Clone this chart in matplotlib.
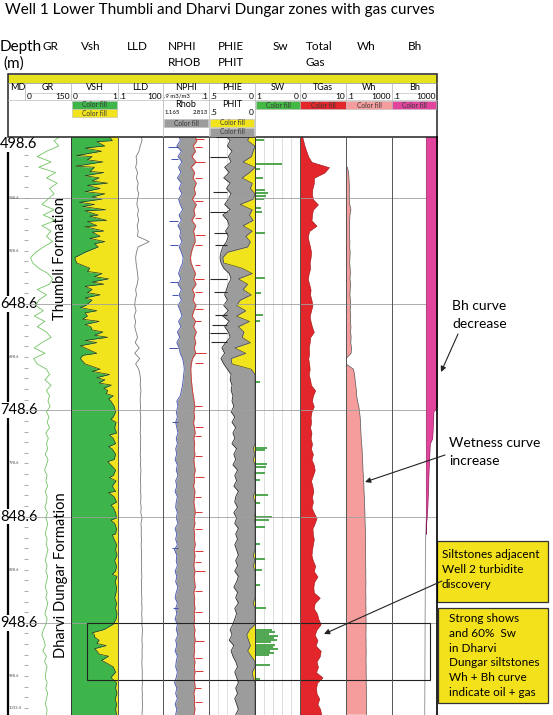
import numpy as np
import matplotlib
matplotlib.use("Agg")
import matplotlib.pyplot as plt
from matplotlib.patches import Rectangle

plt.rcParams['font.family'] = ['Lato', 'DejaVu Sans']

# ---------------- data (5 m sampling) ----------------
DEPTH = np.arange(490.0, 1036.0, 5.0)   # 490 ... 1035 m

VSH = [0.80, 0.88, 0.72, 0.65, 0.45, 0.68, 0.50, 0.70, 0.60, 0.78,
       0.62, 0.72, 0.66, 0.50, 0.74, 0.58, 0.76, 0.55, 0.70, 0.62,
       0.72, 0.58, 0.30, 0.08, 0.12, 0.40, 0.66, 0.80, 0.70, 0.45,
       0.62, 0.45, 0.32, 0.55, 0.35, 0.60, 0.42, 0.68, 0.78, 0.55,
       0.30, 0.55, 0.20, 0.30, 0.62, 0.82, 0.72, 0.86, 0.78, 0.90,
       0.85, 0.92, 0.95, 0.90, 0.96, 0.93, 0.97, 0.90, 0.95, 0.88,
       0.95, 0.92, 0.85, 0.95, 0.90, 0.96, 0.88, 0.95, 0.92, 0.97,
       0.90, 0.95, 0.97, 0.93, 0.97, 0.95, 0.92, 0.97, 0.95, 0.98,
       0.93, 0.97, 0.95, 0.98, 0.94, 0.97, 0.96, 0.93, 0.97, 0.95,
       0.98, 0.96, 0.90, 0.70, 0.50, 0.60, 0.75, 0.55, 0.80, 0.70,
       0.90, 0.95, 0.85, 0.97, 0.95, 0.98, 0.94, 0.97, 0.95, 0.97]

GR = [120, 95, 110, 70, 40, 85, 45, 100, 70, 105,
      80, 95, 75, 55, 95, 60, 100, 55, 85, 70,
      90, 60, 35, 18, 25, 45, 75, 90, 80, 40,
      70, 45, 35, 60, 30, 65, 40, 70, 85, 55,
      30, 65, 28, 40, 70, 80, 65, 85, 70, 80,
      75, 82, 70, 78, 72, 80, 68, 76, 70, 74,
      66, 75, 70, 64, 72, 68, 74, 66, 72, 70,
      65, 73, 68, 74, 70, 66, 72, 69, 75, 70,
      66, 72, 68, 74, 70, 66, 72, 68, 74, 70,
      65, 72, 68, 60, 55, 62, 66, 58, 70, 64,
      72, 68, 66, 72, 68, 74, 70, 66, 72, 70]

LLD = [3.5, 4.0, 3.0, 2.5, 1.6, 1.8, 1.5, 2.0, 1.7, 2.2,
       1.9, 2.4, 2.0, 1.8, 2.3, 2.0, 2.4, 1.9, 2.2, 2.0,
       12.0, 2.2, 1.7, 1.5, 1.6, 1.8, 2.0, 2.2, 1.9, 1.5,
       1.7, 1.4, 1.3, 1.6, 1.2, 1.5, 1.3, 1.6, 2.0, 1.4,
       2.6, 1.3, 2.8, 1.5, 2.4, 2.9, 3.2, 3.0, 3.4, 3.1,
       3.0, 3.2, 3.0, 3.3, 3.1, 3.2, 3.0, 3.3, 3.1, 3.2,
       3.0, 3.3, 3.1, 3.4, 3.2, 3.1, 3.3, 3.2, 3.4, 3.2,
       3.5, 3.3, 4.0, 3.4, 3.6, 3.5, 3.7, 3.5, 3.6, 3.8,
       3.6, 3.8, 3.7, 3.9, 3.6, 3.8, 3.7, 3.9, 3.8, 4.0,
       3.8, 4.0, 3.9, 4.3, 4.1, 3.9, 4.2, 4.0, 4.1, 3.9,
       4.0, 4.2, 4.1, 4.3, 4.0, 4.2, 4.1, 4.3, 4.2, 4.0]

NPHI = [0.62, 0.60, 0.66, 0.58, 0.64, 0.57, 0.63, 0.59, 0.65, 0.58,
        0.62, 0.57, 0.63, 0.60, 0.56, 0.62, 0.58, 0.64, 0.59, 0.61,
        0.57, 0.62, 0.58, 0.55, 0.56, 0.60, 0.63, 0.59, 0.64, 0.58,
        0.62, 0.58, 0.64, 0.60, 0.57, 0.63, 0.59, 0.65, 0.61, 0.66,
        0.62, 0.60, 0.56, 0.54, 0.53, 0.54, 0.55, 0.56, 0.58, 0.60,
        0.66, 0.64, 0.67, 0.65, 0.68, 0.66, 0.64, 0.67, 0.65, 0.68,
        0.66, 0.69, 0.65, 0.67, 0.64, 0.68, 0.66, 0.69, 0.65, 0.67,
        0.68, 0.65, 0.67, 0.64, 0.69, 0.66, 0.68, 0.65, 0.70, 0.66,
        0.67, 0.65, 0.69, 0.66, 0.68, 0.64, 0.67, 0.69, 0.65, 0.68,
        0.66, 0.69, 0.65, 0.67, 0.64, 0.68, 0.66, 0.69, 0.65, 0.67,
        0.68, 0.65, 0.67, 0.70, 0.66, 0.68, 0.65, 0.69, 0.66, 0.68]

RHOB = [2.30, 2.38, 2.25, 2.33, 2.20, 2.35, 2.18, 2.30, 2.24, 2.36,
        2.28, 2.33, 2.22, 2.36, 2.27, 2.31, 2.20, 2.34, 2.26, 2.30,
        2.32, 2.24, 2.18, 2.15, 2.17, 2.25, 2.33, 2.27, 2.35, 2.22,
        2.30, 2.24, 2.35, 2.27, 2.21, 2.33, 2.26, 2.36, 2.29, 2.34,
        2.28, 2.34, 2.22, 2.18, 2.16, 2.17, 2.18, 2.20, 2.22, 2.25,
        2.28, 2.31, 2.27, 2.30, 2.26, 2.29, 2.32, 2.27, 2.30, 2.28,
        2.31, 2.27, 2.29, 2.32, 2.28, 2.30, 2.26, 2.31, 2.29, 2.27,
        2.30, 2.32, 2.28, 2.31, 2.27, 2.30, 2.29, 2.32, 2.28, 2.31,
        2.29, 2.27, 2.31, 2.28, 2.30, 2.32, 2.27, 2.30, 2.29, 2.31,
        2.28, 2.30, 2.27, 2.31, 2.29, 2.32, 2.28, 2.30, 2.27, 2.31,
        2.29, 2.31, 2.28, 2.30, 2.32, 2.27, 2.30, 2.29, 2.31, 2.28]

PHIT = [0.32, 0.27, 0.30, 0.25, 0.29, 0.26, 0.33, 0.28, 0.34, 0.27,
        0.31, 0.26, 0.29, 0.33, 0.27, 0.35, 0.30, 0.28, 0.32, 0.29,
        0.31, 0.35, 0.37, 0.38, 0.37, 0.34, 0.28, 0.26, 0.29, 0.31,
        0.33, 0.30, 0.34, 0.29, 0.35, 0.28, 0.33, 0.29, 0.27, 0.32,
        0.36, 0.33, 0.37, 0.34, 0.30, 0.26, 0.27, 0.25, 0.26, 0.24,
        0.25, 0.23, 0.26, 0.22, 0.25, 0.21, 0.24, 0.22, 0.25, 0.20,
        0.23, 0.21, 0.24, 0.19, 0.22, 0.20, 0.23, 0.18, 0.21, 0.22,
        0.19, 0.23, 0.20, 0.22, 0.18, 0.21, 0.19, 0.22, 0.20, 0.18,
        0.21, 0.19, 0.22, 0.18, 0.20, 0.23, 0.19, 0.21, 0.18, 0.22,
        0.20, 0.22, 0.24, 0.27, 0.25, 0.28, 0.23, 0.26, 0.24, 0.21,
        0.19, 0.22, 0.20, 0.18, 0.21, 0.19, 0.22, 0.20, 0.18, 0.21]

PHIE = [0.06, 0.08, 0.00, 0.02, 0.04, 0.13, 0.00, 0.06, 0.14, 0.03,
        0.05, 0.00, 0.02, 0.16, 0.03, 0.06, 0.02, 0.13, 0.03, 0.10,
        0.05, 0.08, 0.30, 0.35, 0.34, 0.14, 0.03, 0.18, 0.08, 0.13,
        0.04, 0.16, 0.20, 0.10, 0.20, 0.06, 0.18, 0.12, 0.14, 0.05,
        0.22, 0.10, 0.26, 0.25, 0.04, 0.00, 0.00, 0.00, 0.00, 0.00,
        0.00, 0.00, 0.00, 0.00, 0.00, 0.00, 0.00, 0.00, 0.00, 0.02,
        0.00, 0.02, 0.00, 0.00, 0.01, 0.00, 0.00, 0.00, 0.02, 0.00,
        0.00, 0.00, 0.01, 0.00, 0.00, 0.00, 0.00, 0.00, 0.00, 0.02,
        0.00, 0.02, 0.00, 0.00, 0.00, 0.00, 0.00, 0.00, 0.02, 0.00,
        0.00, 0.00, 0.00, 0.06, 0.09, 0.07, 0.05, 0.08, 0.04, 0.00,
        0.00, 0.03, 0.02, 0.00, 0.00, 0.00, 0.00, 0.00, 0.00, 0.00]

TGAS = [0.4, 0.7, 1.0, 1.4, 1.8, 2.5, 6.3, 5.3, 3.0, 3.0,
        2.7, 2.6, 2.8, 3.9, 2.8, 2.6, 2.5, 3.6, 2.0, 1.7,
        1.9, 2.2, 2.4, 2.3, 2.1, 2.2, 1.9, 1.7, 2.0, 2.3,
        2.2, 2.5, 2.7, 2.4, 2.1, 2.3, 2.6, 3.0, 2.2, 2.1,
        1.9, 2.0, 1.8, 2.0, 2.1, 1.9, 2.2, 2.4, 3.3, 2.8,
        2.6, 3.0, 2.5, 2.3, 2.4, 2.2, 2.5, 2.3, 2.6, 2.4,
        2.8, 2.5, 3.0, 3.2, 2.8, 2.4, 2.7, 2.9, 2.6, 2.8,
        2.5, 3.0, 3.6, 3.2, 2.7, 2.8, 3.0, 2.8, 2.6, 2.5,
        2.8, 3.3, 3.0, 3.8, 3.1, 2.9, 3.0, 4.3, 3.2, 3.0,
        3.7, 4.0, 4.5, 3.6, 3.2, 3.8, 3.4, 4.5, 4.3, 3.6,
        3.9, 3.5, 4.9, 3.7, 3.5, 3.6, 4.2, 3.8, 4.4, 4.6]

nan = np.nan
WH = [nan, nan, nan, nan, nan, nan, 0.13, 0.17, 0.18, 0.19,
      0.20, 0.19, 0.20, 0.21, 0.27, 0.22, 0.21, 0.20, 0.21, 0.20,
      0.22, 0.21, 0.23, 0.22, 0.21, 0.23, 0.24, 0.22, 0.25, 0.23,
      0.22, 0.24, 0.25, 0.23, 0.26, 0.24, 0.27, 0.25, 0.28, 0.26,
      0.30, 0.28, 0.10, 0.10, 0.45, 0.55, 0.62, 0.70, 0.80, 0.85,
      1.0, 1.3, 1.5, 1.7, 1.8, 1.9, 2.0, 2.1, 2.3, 2.5,
      2.6, 2.7, 2.9, 3.0, 3.2, 3.4, 3.6, 3.7, 3.9, 4.0,
      4.2, 4.4, 4.5, 4.6, 4.8, 4.9, 5.0, 4.9, 5.1, 5.0,
      5.2, 5.1, 5.3, 5.2, 5.4, 5.3, 5.2, 5.4, 5.3, 5.5,
      5.4, 5.5, 5.6, 5.5, 5.4, 5.6, 5.5, 5.7, 5.6, 5.5,
      5.7, 5.6, 5.8, 5.7, 5.9, 5.8, 6.0, 5.9, 6.1, 6.0]

BH = [1000, 1000, 1000, 1000, 1000, 1000, 1000, 1000, 1000, 1000,
      1000, 1000, 1000, 1000, 1000, 1000, 1000, 1000, 1000, 1000,
      1000, 1000, 1000, 1000, 1000, 1000, 1000, 1000, 1000, 1000,
      1000, 1000, 1000, 1000, 1000, 1000, 1000, 1000, 1000, 1000,
      1000, 1000, 1000, 1000, 1000, 1000, 1000, 1000, 1000, 1000,
      1000, 1000, 480, 470, 450, 420, 400, 380, 230, 220,
      210, 200, 190, 180, 175, 170, 165, 160, 150, 145,
      140, 130, 120, 110, 105, 100, 97, 95, 96, 94,
      95, 93, 94, 92, 93, 91, 92, 90, 91, 89,
      90, 88, 89, 87, 88, 86, 87, 85, 86, 84,
      85, 84, 83, 84, 82, 83, 81, 82, 80, 81]

# extra samples at narrow spikes (depth m, value)
VSH_SPIKE_D = [496, 502, 509, 513, 519, 524, 528, 533, 537, 543, 548, 553, 557, 561, 566,
               571, 576, 581, 587, 592, 618, 623, 628, 632, 638, 643, 652, 657, 663, 668,
               673, 678, 683, 688, 697, 712, 718, 723, 728, 733, 738, 757, 772, 783, 797,
               812, 826, 838, 852, 866, 903, 958, 962, 968, 973, 978, 984]
VSH_SPIKE_V = [0.55, 0.30, 0.12, 0.35, 0.10, 0.40, 0.30, 0.45, 0.35, 0.30, 0.45, 0.18,
               0.25, 0.30, 0.40, 0.35, 0.30, 0.45, 0.40, 0.50, 0.35, 0.50, 0.45, 0.30,
               0.35, 0.30, 0.20, 0.30, 0.25, 0.30, 0.45, 0.50, 0.30, 0.20, 0.25, 0.45,
               0.55, 0.60, 0.70, 0.75, 0.80, 0.85, 0.82, 0.80, 0.78, 0.82, 0.80, 0.85,
               0.85, 0.88, 0.88, 0.45, 0.50, 0.55, 0.50, 0.60, 0.65]
PHIT_SPIKE_D = [491.5, 510, 543, 562, 582, 593, 625, 637, 659, 668, 676, 684]
PHIT_SPIKE_V = [0.42, 0.49, 0.46, 0.49, 0.45, 0.43, 0.49, 0.45, 0.44, 0.47, 0.49, 0.48]
RHOB_SPIKE_D = [493, 501, 515, 530, 552, 568, 584, 593, 612, 625, 637, 653, 665, 695, 704,
                745, 764, 773, 792, 811, 830, 844, 860, 881, 891, 900, 919, 938, 966, 982,
                994, 1010, 1023]
RHOB_SPIKE_V = [2.62, 2.55, 2.68, 2.58, 2.60, 2.52, 2.66, 2.57, 2.50, 2.63, 2.55, 2.60,
                2.52, 2.70, 2.60, 2.55, 2.60, 2.52, 2.58, 2.62, 2.54, 2.58, 2.55, 2.60,
                2.52, 2.66, 2.55, 2.58, 2.62, 2.55, 2.60, 2.52, 2.57]
NPHI_SPIKE_D = [491, 501, 512, 571, 593, 628, 640, 690, 760, 878, 935]
NPHI_SPIKE_V = [0.78, 0.82, 0.76, 0.80, 0.77, 0.78, 0.75, 0.80, 0.74, 0.75, 0.73]
SW_SPIKE_D = [494, 517, 522, 530, 541, 544, 547, 550, 558, 562, 582, 624, 638, 659, 665,
              722, 784, 786, 799, 802, 808, 814, 828, 836, 849, 852, 858, 874, 889, 899,
              913, 935, 955, 957, 959, 961, 963, 965, 967, 969, 971, 973, 975, 977, 979,
              988, 1001]
SW_SPIKE_V = [0.80, 0.40, 0.88, 0.82, 0.78, 0.72, 0.75, 0.80, 0.86, 0.84, 0.77, 0.78, 0.87,
              0.82, 0.90, 0.90, 0.74, 0.78, 0.73, 0.75, 0.78, 0.88, 0.72, 0.88, 0.62, 0.70,
              0.78, 0.88, 0.78, 0.85, 0.88, 0.75, 0.62, 0.55, 0.68, 0.50, 0.58, 0.52, 0.64,
              0.56, 0.60, 0.50, 0.66, 0.58, 0.70, 0.66, 0.88]

GRID_DEPTHS = [548.6, 648.6, 748.6, 848.6, 948.6]
MAJOR_LABEL_DEPTHS = [498.6, 648.6, 748.6, 848.6, 948.6]
MINOR_LABEL_DEPTHS = [548.6, 598.6, 698.6, 798.6, 898.6, 998.6]
BOTTOM_LABEL = "1033.4"

TITLE = "Well 1 Lower Thumbli and Dharvi Dungar zones with gas curves"
TRACK_NAMES = ['GR', 'VSH', 'LLD', 'NPHI', 'PHIE', 'SW', 'TGas', 'Wh', 'Bh']
SCALE_LEFT = ['0', '0', '.1', '.9 m3/m3', '.5', '1', '0', '.1', '.1']
SCALE_RIGHT = ['150', '1', '100', '.1', '0', '0', '10', '1000', '1000']

# ---------------- colours ----------------
C_GREEN = '#3db54a'
C_YELLOW = '#f2e41c'
C_GRAY = '#9c9c9c'
C_RED = '#e2262b'
C_SALMON = '#f59c9c'
C_MAGENTA = '#e0449c'
C_SWGREEN = '#44b844'
C_GRID = '#a0a0a0'

# ---------------- layout ----------------
W, H = 553, 715
fig = plt.figure(figsize=(W / 100, H / 100), dpi=100)
TOP_PX, BOT_PX = 137, 715
D_TOP, D_BOT = 491.55, 1035.3
XE = [25, 71, 118, 163, 209, 255, 300, 346, 392, 437]   # track edges (px)

def track_ax(x0, x1, xlim, log=False):
    ax = fig.add_axes([x0 / W, 1 - BOT_PX / H, (x1 - x0) / W, (BOT_PX - TOP_PX) / H])
    if log:
        ax.set_xscale('log')
    ax.set_xlim(*xlim)
    ax.set_ylim(D_BOT, D_TOP)
    ax.set_axis_off()
    return ax

def gridlines(ax, z=5):
    for dd in GRID_DEPTHS:
        ax.axhline(dd, color=C_GRID, lw=0.6, zorder=z)

d = DEPTH

# depth track
ax_d = track_ax(0, 30, (0, 30))
ax_d.plot([7.5, 7.5], [D_TOP, D_BOT], color='black', lw=1.6, zorder=1)
minor = np.arange(508.6, 1035, 10.0)
ax_d.hlines(minor, 23.5, 27.5, color='#8a8a8a', lw=0.5)
ax_d.hlines(GRID_DEPTHS, 9, 30, color=C_GRID, lw=0.6)
for dl in MAJOR_LABEL_DEPTHS:
    ax_d.text(0.3, dl, f"{dl:.1f}", fontsize=10.5, ha='left', va='center', zorder=3,
              bbox=dict(fc='white', ec='none', pad=0.6))
for dl in MINOR_LABEL_DEPTHS:
    ax_d.text(9, dl, f"{dl:.1f}", fontsize=3, color='#555555', ha='left', va='center')
ax_d.text(9, 1029, BOTTOM_LABEL, fontsize=3, color='#555555', ha='left', va='center')

# GR
ax_gr = track_ax(XE[0], XE[1], (0, 150))
ax_gr.plot(GR, d, color='#72c463', lw=0.6)
gridlines(ax_gr)

# VSH (regular samples merged with spike samples)
vd = np.concatenate([d, VSH_SPIKE_D])
vv = np.concatenate([VSH, VSH_SPIKE_V])
order = np.argsort(vd)
vd, vv = vd[order], vv[order]
ax_v = track_ax(XE[1], XE[2], (0, 1))
ax_v.fill_betweenx(vd, 0, vv, color=C_GREEN, lw=0)
ax_v.fill_betweenx(vd, vv, 1, color=C_YELLOW, lw=0)
ax_v.plot(vv, vd, color='#2a3a20', lw=0.5, zorder=3)
gridlines(ax_v)

# LLD
ax_l = track_ax(XE[2], XE[3], (0.1, 100), log=True)
ax_l.plot(LLD, d, color='#7a7a7a', lw=0.6)
gridlines(ax_l)

# NPHI / RHOB
ax_n = track_ax(XE[3], XE[4], (0.9, 0.1))
ax_r = track_ax(XE[3], XE[4], (1.165, 2.813))
pts = ax_r.transData.transform(np.column_stack([RHOB, d]))
rhob_in_n = ax_n.transData.inverted().transform(pts)[:, 0]
ax_n.fill_betweenx(d, NPHI, rhob_in_n, color=C_GRAY, lw=0)
ax_n.plot(NPHI, d, color='#3f4fb0', lw=0.6)
ax_r.plot(RHOB, d, color='#d8342c', lw=0.6)
ax_r.hlines(RHOB_SPIKE_D, 2.3, RHOB_SPIKE_V, color='#d8342c', lw=0.7)
ax_n.hlines(NPHI_SPIKE_D, 0.64, NPHI_SPIKE_V, color='#3f4fb0', lw=0.7)
gridlines(ax_n)

# PHIE / PHIT
ax_p = track_ax(XE[4], XE[5], (0.5, 0))
for gx in [0.4, 0.3, 0.2, 0.1]:
    ax_p.axvline(gx, color='#d4d4d4', lw=0.5, zorder=0)
ax_p.fill_betweenx(d, PHIT, 0, color=C_GRAY, lw=0, zorder=1)
ax_p.plot(PHIT, d, color='#2a2a2a', lw=0.6, zorder=2)
ax_p.hlines(PHIT_SPIKE_D, PHIT_SPIKE_V, 0.3, color='#2a2a2a', lw=0.8, zorder=2)
ax_p.fill_betweenx(d, PHIE, 0, color=C_YELLOW, lw=0, zorder=3)
ax_p.plot(PHIE, d, color='#3a3a3a', lw=0.4, zorder=4)
gridlines(ax_p)

# SW
ax_s = track_ax(XE[5], XE[6], (1, 0))
for gx in [0.8, 0.6, 0.4, 0.2]:
    ax_s.axvline(gx, color='#cfcfcf', lw=0.5, zorder=0)
ax_s.hlines(SW_SPIKE_D, SW_SPIKE_V, 1.0, color=C_SWGREEN, lw=1.3, zorder=2)
ax_s.hlines(SW_SPIKE_D, SW_SPIKE_V, 1.0, color='#4a4a4a', lw=0.25, zorder=3)
gridlines(ax_s)

# Total gas
ax_t = track_ax(XE[6], XE[7], (0, 10))
ax_t.fill_betweenx(d, 0, TGAS, facecolor=C_RED, edgecolor='#9a1010', lw=0.4)
gridlines(ax_t)

# Wetness
ax_w = track_ax(XE[7], XE[8], (0.1, 1000), log=True)
ax_w.fill_betweenx(d, 0.1, WH, facecolor=C_SALMON, lw=0)
ax_w.plot(WH, d, color='#555555', lw=0.5)
gridlines(ax_w)

# Balance
ax_b = track_ax(XE[8], XE[9], (0.1, 1000), log=True)
gridlines(ax_b, z=0)
ax_b.plot(BH, d, color='#9a9a9a', lw=0.7, zorder=1)
bh = np.array(BH, dtype=float)
ax_b.fill_betweenx(d, 100, bh, where=bh >= 100, interpolate=True,
                   facecolor=C_MAGENTA, edgecolor='#8b1a5a', lw=0.4, zorder=2)

# ---------------- overlay (pixel coordinates) ----------------
ov = fig.add_axes([0, 0, 1, 1])
ov.set_xlim(0, W)
ov.set_ylim(H, 0)
ov.set_axis_off()
ov.set_zorder(10)

ov.text(5, 10, TITLE, fontsize=11, ha='left', va='center')

# column headings
ov.text(0, 47, "Depth", fontsize=11, ha='left', va='center')
ov.text(3, 64, "(m)", fontsize=11, ha='left', va='center')
heads = [("GR", 50.5, 47), ("Vsh", 91, 47), ("LLD", 137.5, 47), ("NPHI", 168, 47),
         ("RHOB", 168, 63), ("PHIE", 218, 47), ("PHIT", 218, 63), ("Sw", 280, 47),
         ("Total", 306, 47), ("Gas", 306, 63), ("Wh", 366, 47), ("Bh", 415, 47)]
for s, x, y in heads:
    ha = 'left' if s in ("NPHI", "RHOB", "PHIE", "PHIT", "Total", "Gas") else 'center'
    ov.text(x, y, s, fontsize=8.5, ha=ha, va='center')

# header box
ov.add_patch(Rectangle((8, 74.5), 429, 8, facecolor='#e6e21e', edgecolor='none'))
ov.add_patch(Rectangle((8, 74), 429, 63, facecolor='none', edgecolor='#222222', lw=1.1))
ov.plot([8, 437], [82.5, 82.5], color='#888888', lw=0.5)
ov.plot([8, 437], [100, 100], color='#bdbdbd', lw=0.5)
for i in range(9):
    ov.plot([XE[i] + 4, XE[i + 1] - 4], [92.5, 92.5], color='#bdbdbd', lw=0.5)
for x in XE[:-1]:
    ov.plot([x, x], [82.5, 100], color='#bdbdbd', lw=0.6)
for x in (163, 209, 255):
    ov.plot([x, x], [100, 137], color='#bdbdbd', lw=0.6)
ov.text(10, 88, "MD", fontsize=6.5, ha='left', va='center')
for i, name in enumerate(TRACK_NAMES):
    cx = (XE[i] + XE[i + 1]) / 2
    ov.text(cx, 88, name, fontsize=6.5, ha='center', va='center')
    lfs = 4.3 if SCALE_LEFT[i].startswith('.9') else 6
    ov.text(XE[i] + 1.5, 96.5, SCALE_LEFT[i], fontsize=lfs, ha='left', va='center')
    ov.text(XE[i + 1] - 1, 96.5, SCALE_RIGHT[i], fontsize=6, ha='right', va='center')

ov.text(186, 104.5, "Rhob", fontsize=6.5, ha='center', va='center')
ov.text(232, 104.5, "PHIT", fontsize=6.5, ha='center', va='center')
ov.text(164.5, 112.5, "1.165", fontsize=4.3, ha='left', va='center')
ov.text(207.5, 112.5, "2.813", fontsize=4.3, ha='right', va='center')
ov.text(210.5, 112.5, ".5", fontsize=6, ha='left', va='center')
ov.text(254, 112.5, "0", fontsize=6, ha='right', va='center')

def cbox(x0, x1, y0, y1, color):
    ov.add_patch(Rectangle((x0, y0), x1 - x0, y1 - y0, facecolor=color,
                           edgecolor='#bbbbbb', lw=0.4))
    ov.text((x0 + x1) / 2, (y0 + y1) / 2, "Color fill", fontsize=4.8,
            color='#3a3a3a', ha='center', va='center')

cbox(72, 117, 101, 108.5, C_GREEN)
cbox(72, 117, 109, 117, C_YELLOW)
cbox(164, 208, 119, 127, C_GRAY)
cbox(210, 254, 118.5, 127, C_YELLOW)
cbox(210, 254, 127.5, 136, C_GRAY)
cbox(256, 300, 101, 109, C_SWGREEN)
cbox(300, 346, 101, 109, C_RED)
cbox(346, 392, 101, 109, C_SALMON)
cbox(392, 436, 101, 109, C_MAGENTA)

# track borders
border_cols = ['#333333', '#555555', '#555555', '#555555', '#333333',
               '#555555', '#555555', '#555555', '#000000']
for x, c in zip(XE[1:], border_cols):
    ov.plot([x, x], [137, 715], color=c, lw=1.2 if x == 437 else 0.7)

# formation labels
ov.text(60, 259, "Thumbli Formation", rotation=90, fontsize=10.5, ha='center', va='center')
ov.text(61, 575, "Dharvi Dungar Formation", rotation=90, fontsize=10.5, ha='center', va='center')

# highlight rectangle
ov.add_patch(Rectangle((87, 623), 343, 57, facecolor='none', edgecolor='#222222', lw=0.8))

# annotations
arrow = dict(arrowstyle='-|>', color='#222222', lw=0.8, mutation_scale=8, shrinkA=0, shrinkB=0)
ov.text(452, 306, "Bh curve", fontsize=10, ha='left', va='center')
ov.text(452, 324, "decrease", fontsize=10, ha='left', va='center')
ov.annotate('', xy=(441, 372), xytext=(458, 334), arrowprops=arrow)
ov.text(449, 443, "Wetness curve", fontsize=10, ha='left', va='center')
ov.text(449, 461, "increase", fontsize=10, ha='left', va='center')
ov.annotate('', xy=(365, 482), xytext=(445, 455), arrowprops=arrow)

ov.add_patch(Rectangle((437, 541), 111, 61, facecolor='#f3e11c', edgecolor='#333333', lw=0.9))
for s, y in zip(["Siltstones adjacent", "Well 2 turbidite", "discovery"], [554, 569.5, 585]):
    ov.text(442, y, s, fontsize=8.5, ha='left', va='center')
ov.annotate('', xy=(324, 634), xytext=(442, 581), arrowprops=arrow)

ov.add_patch(Rectangle((438, 608), 110, 95, facecolor='#f3e11c', edgecolor='#333333', lw=0.9))
lines2 = ["Strong shows", "and 60%  Sw", "in Dharvi", "Dungar siltstones",
          "Wh + Bh curve", "indicate oil + gas"]
for k, s in enumerate(lines2):
    ov.text(449, 619 + 14.6 * k, s, fontsize=8.5, ha='left', va='center')

fig.savefig("out.png", dpi=100)
